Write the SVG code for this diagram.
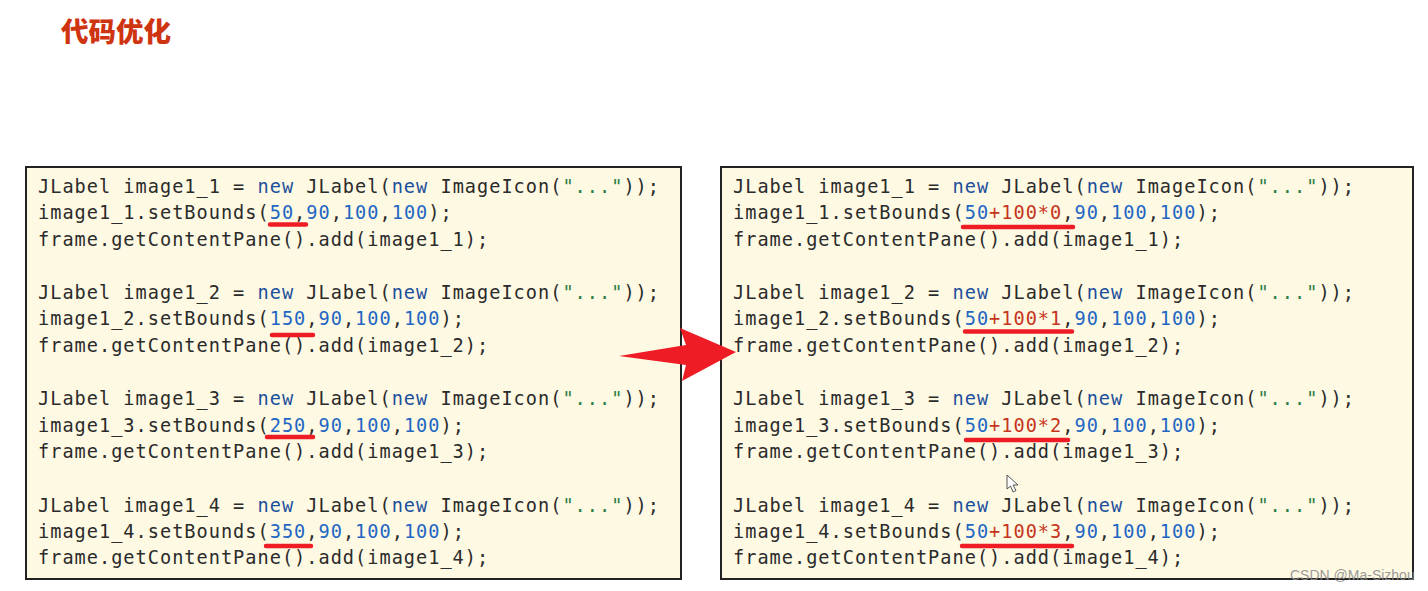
<svg xmlns="http://www.w3.org/2000/svg" width="1428" height="591" viewBox="0 0 1428 591">
<style>
.box{fill:#fef9e3;stroke:#222;stroke-width:2}
.c{font-family:"DejaVu Sans Mono","Liberation Mono",monospace;font-size:18.6px;letter-spacing:1px;fill:#2b2b2b;white-space:pre}
.k{fill:#1c4f9c}.n{fill:#2266c4}.r{fill:#c5341c}.s{fill:#2d7d46}
.u{stroke:#ee1c25;stroke-width:4.500;stroke-linecap:round;fill:none}
.t{font-family:"Noto Sans CJK SC",sans-serif;font-weight:900;font-size:27.500px;fill:#cf3410}
.w{font-family:"Liberation Sans",sans-serif;font-size:14px;fill:#8a8a8a;opacity:.85}
</style>
<rect width="1428" height="591" fill="#fff"/>
<g id="title"><text class="t" x="61" y="42">代码优化</text></g>
<g id="code-before">
<rect class="box" x="26" y="167" width="655" height="412"/>
<text class="c" x="38" y="193">JLabel image1_1 = <tspan class="k">new</tspan> JLabel(<tspan class="k">new</tspan> ImageIcon(<tspan class="s">"..."</tspan>));</text>
<text class="c" x="38" y="219">image1_1.setBounds(<tspan class="n">50</tspan>,<tspan class="n">90</tspan>,<tspan class="n">100</tspan>,<tspan class="n">100</tspan>);</text>
<text class="c" x="38" y="246">frame.getContentPane().add(image1_1);</text>
<text class="c" x="38" y="299">JLabel image1_2 = <tspan class="k">new</tspan> JLabel(<tspan class="k">new</tspan> ImageIcon(<tspan class="s">"..."</tspan>));</text>
<text class="c" x="38" y="325">image1_2.setBounds(<tspan class="n">150</tspan>,<tspan class="n">90</tspan>,<tspan class="n">100</tspan>,<tspan class="n">100</tspan>);</text>
<text class="c" x="38" y="352">frame.getContentPane().add(image1_2);</text>
<text class="c" x="38" y="405">JLabel image1_3 = <tspan class="k">new</tspan> JLabel(<tspan class="k">new</tspan> ImageIcon(<tspan class="s">"..."</tspan>));</text>
<text class="c" x="38" y="432">image1_3.setBounds(<tspan class="n">250</tspan>,<tspan class="n">90</tspan>,<tspan class="n">100</tspan>,<tspan class="n">100</tspan>);</text>
<text class="c" x="38" y="458">frame.getContentPane().add(image1_3);</text>
<text class="c" x="38" y="512">JLabel image1_4 = <tspan class="k">new</tspan> JLabel(<tspan class="k">new</tspan> ImageIcon(<tspan class="s">"..."</tspan>));</text>
<text class="c" x="38" y="538">image1_4.setBounds(<tspan class="n">350</tspan>,<tspan class="n">90</tspan>,<tspan class="n">100</tspan>,<tspan class="n">100</tspan>);</text>
<text class="c" x="38" y="564">frame.getContentPane().add(image1_4);</text>
<path class="u" d="M270 224.500H306M272 335H313M267 437H313M266 546H311"/>
</g>
<g id="code-after">
<rect class="box" x="721" y="167" width="692" height="412"/>
<text class="c" x="733" y="193">JLabel image1_1 = <tspan class="k">new</tspan> JLabel(<tspan class="k">new</tspan> ImageIcon(<tspan class="s">"..."</tspan>));</text>
<text class="c" x="733" y="219">image1_1.setBounds(<tspan class="n">50</tspan><tspan class="r">+100*0</tspan>,<tspan class="n">90</tspan>,<tspan class="n">100</tspan>,<tspan class="n">100</tspan>);</text>
<text class="c" x="733" y="246">frame.getContentPane().add(image1_1);</text>
<text class="c" x="733" y="299">JLabel image1_2 = <tspan class="k">new</tspan> JLabel(<tspan class="k">new</tspan> ImageIcon(<tspan class="s">"..."</tspan>));</text>
<text class="c" x="733" y="325">image1_2.setBounds(<tspan class="n">50</tspan><tspan class="r">+100*1</tspan>,<tspan class="n">90</tspan>,<tspan class="n">100</tspan>,<tspan class="n">100</tspan>);</text>
<text class="c" x="733" y="352">frame.getContentPane().add(image1_2);</text>
<text class="c" x="733" y="405">JLabel image1_3 = <tspan class="k">new</tspan> JLabel(<tspan class="k">new</tspan> ImageIcon(<tspan class="s">"..."</tspan>));</text>
<text class="c" x="733" y="432">image1_3.setBounds(<tspan class="n">50</tspan><tspan class="r">+100*2</tspan>,<tspan class="n">90</tspan>,<tspan class="n">100</tspan>,<tspan class="n">100</tspan>);</text>
<text class="c" x="733" y="458">frame.getContentPane().add(image1_3);</text>
<text class="c" x="733" y="512">JLabel image1_4 = <tspan class="k">new</tspan> JLabel(<tspan class="k">new</tspan> ImageIcon(<tspan class="s">"..."</tspan>));</text>
<text class="c" x="733" y="538">image1_4.setBounds(<tspan class="n">50</tspan><tspan class="r">+100*3</tspan>,<tspan class="n">90</tspan>,<tspan class="n">100</tspan>,<tspan class="n">100</tspan>);</text>
<text class="c" x="733" y="564">frame.getContentPane().add(image1_4);</text>
<path class="u" d="M963 227H1073M965 331.500H1072M966 440H1068M962 546H1072"/>
</g>
<g id="connectors">
<polygon points="680,328 736,352 682,381 686,365 619,356 686,345" fill="#ee1c25"/>
</g>
<path d="M1007 475V489L1010.500 486L1013 492L1016 490.500L1013 485H1018Z" fill="#fff" stroke="#555" stroke-width="1"/>
<text class="w" x="1290" y="580">CSDN @Ma-Sizhou</text>
</svg>
